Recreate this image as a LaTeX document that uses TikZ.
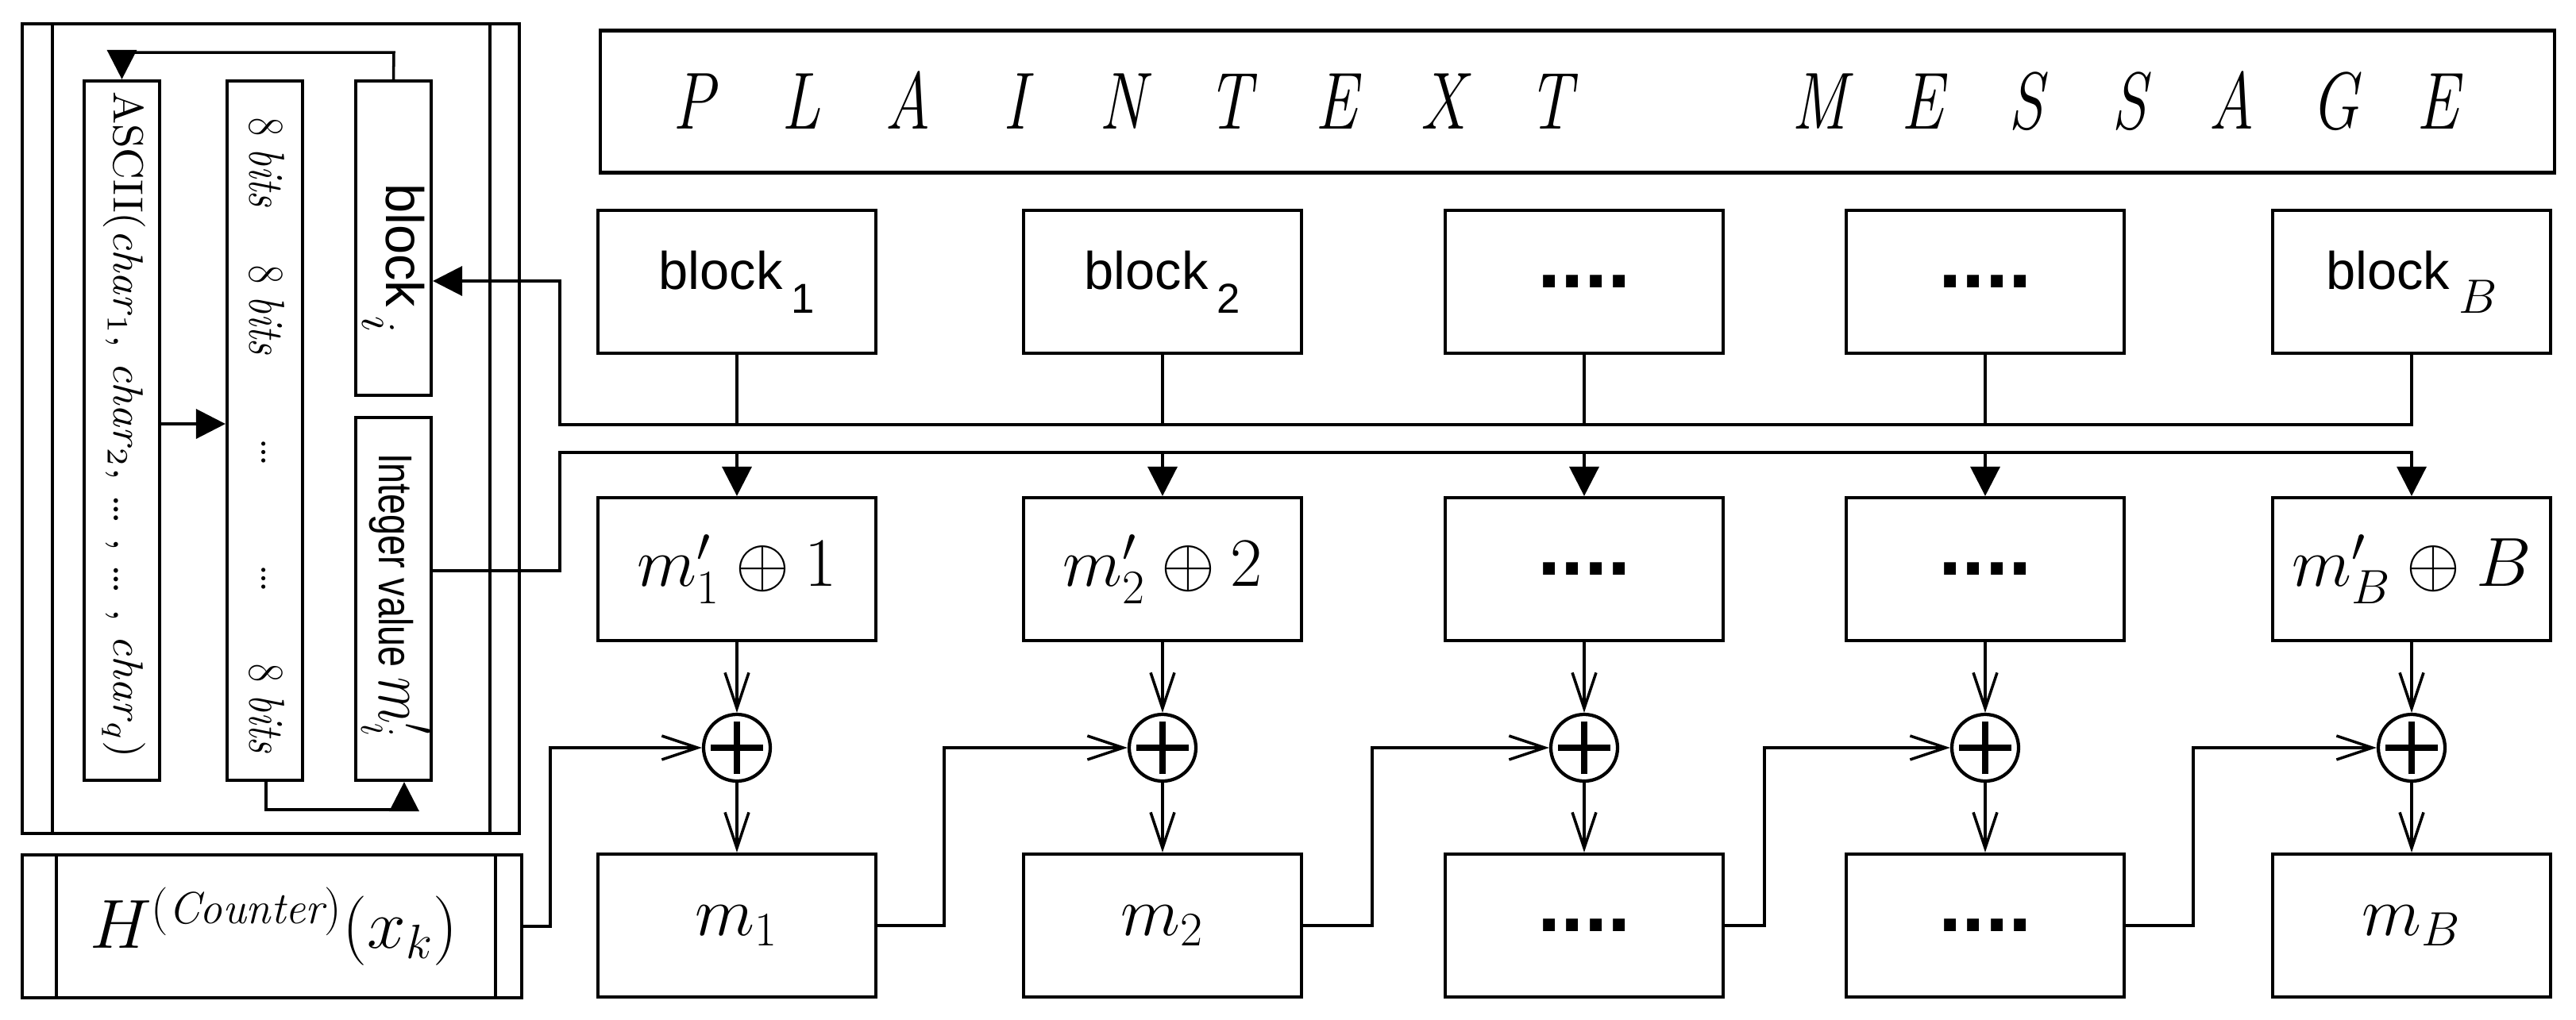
\documentclass[tikz,border=0pt]{standalone}
\usepackage{fontspec}
\setsansfont{Liberation Sans}
\usetikzlibrary{arrows.meta}
\begin{document}
\begin{tikzpicture}[
  line width=1pt,
  box/.style={draw,line width=1.2pt,minimum width=3.5cm,minimum height=1.8cm,inner sep=0pt},
  tri/.style={-{Triangle[length=0.37cm,width=0.37cm]}},
  barb/.style={-{Straight Barb[length=0.45cm,width=0.3cm,line width=1pt]}},
  xor/.style={draw,circle,line width=1.2pt,minimum size=0.84cm,inner sep=0pt},
  vtext/.style={rotate=-90,inner sep=0pt},
  mfont/.style={font=\fontsize{23}{26}\selectfont},
  sfont/.style={font=\sffamily\fontsize{19}{22}\selectfont},
  dots/.style={font=\sffamily\bfseries\fontsize{30}{32}\selectfont}
]
\useasboundingbox (0,0) rectangle (32.44,-12.84);
\newcommand{\blk}[1]{block\raisebox{-0.45em}{\,\fontsize{15}{16}\selectfont #1}}
\newcommand{\plet}[2]{\makebox[#1]{\scalebox{0.78}[1]{#2}}}
\newcommand{\dotsq}{....}

% plaintext
\node[draw,line width=1.3pt,minimum width=24.61cm,minimum height=1.79cm,inner sep=0pt] (pt) at (19.865,-1.28) {};
\node[inner sep=0pt,font=\itshape\fontsize{29}{30}\selectfont] (ptt) at (19.71,-1.27)
 {\plet{1.3475cm}{P}\plet{1.3475cm}{L}\plet{1.3475cm}{A}\plet{1.3475cm}{I}\plet{1.3475cm}{N}\plet{1.3475cm}{T}\plet{1.3475cm}{E}\plet{1.3475cm}{X}\plet{1.3475cm}{T}\hspace{2.07cm}\plet{1.298cm}{M}\plet{1.298cm}{E}\plet{1.298cm}{S}\plet{1.298cm}{S}\plet{1.298cm}{A}\plet{1.298cm}{G}\plet{1.298cm}{E}};

% rows
\foreach \i/\x in {1/9.28,2/14.64,3/19.95,4/25.00,5/30.37}{
  \node[box] (b\i) at (\x,-3.55) {};
  \node[box] (p\i) at (\x,-7.17) {};
  \node[xor] (x\i) at (\x,-9.42) {};
  \node[box] (m\i) at (\x,-11.66) {};
}
\node[sfont] at (b1) {\blk{1}};
\node[sfont] at (b2) {\blk{2}};
\node[dots] at (b3) {\dotsq};
\node[dots] at (b4) {\dotsq};
\node[sfont] at (b5) {block\raisebox{-0.45em}{\,\fontsize{17}{18}\selectfont$B$}};
\node[mfont] at (p1) {$m'_1\oplus 1$};
\node[mfont] at (p2) {$m'_2\oplus 2$};
\node[dots] at (p3) {\dotsq};
\node[dots] at (p4) {\dotsq};
\node[mfont] at (p5) {$m'_B\oplus B$};
\node[mfont] at (m1) {$m_1$};
\node[mfont] at (m2) {$m_2$};
\node[dots] at (m3) {\dotsq};
\node[dots] at (m4) {\dotsq};
\node[mfont] at (m5) {$m_B$};
\foreach \i in {1,...,5}{
  \draw[line width=2.2pt] ([xshift=-0.33cm]x\i.center) -- ([xshift=0.33cm]x\i.center);
  \draw[line width=2.2pt] ([yshift=-0.33cm]x\i.center) -- ([yshift=0.33cm]x\i.center);
  \draw[barb] (p\i.south) -- (x\i.north);
  \draw[barb] (x\i.south) -- (m\i.north);
}

% left panel
\draw[line width=1.3pt] (0.28,-0.30) rectangle (6.54,-10.50);
\draw (0.66,-0.30) -- (0.66,-10.50);
\draw (6.17,-0.30) -- (6.17,-10.50);
\node[draw,line width=1.2pt,minimum width=0.95cm,minimum height=8.81cm,inner sep=0pt] (asc) at (1.535,-5.425) {};
\node[draw,line width=1.2pt,minimum width=0.95cm,minimum height=8.81cm,inner sep=0pt] (bits) at (3.335,-5.425) {};
\node[draw,line width=1.2pt,minimum width=0.95cm,minimum height=3.96cm,inner sep=0pt] (blki) at (4.955,-3.00) {};
\node[draw,line width=1.2pt,minimum width=0.95cm,minimum height=4.57cm,inner sep=0pt] (int) at (4.955,-7.545) {};
\node[vtext] at (1.56,-5.35) {\resizebox*{8.4cm}{0.55cm}{ASCII(\textit{char}$_1$, \textit{char}$_2$, \ldots\ , \ldots\ , \textit{char}$_q$)}};
\foreach \y in {2.05,3.91,8.93}{
  \node[vtext,font=\fontsize{18}{20}\selectfont] at (3.36,-\y) {\scalebox{0.79}[1]{8 \textit{bits}}};
}
\node[vtext,font=\fontsize{18}{20}\selectfont] at (3.32,-5.70) {\ldots};
\node[vtext,font=\fontsize{18}{20}\selectfont] at (3.32,-7.29) {\ldots};
\node[vtext,sfont] at (4.96,-3.25) {block\raisebox{-0.45em}{\,\fontsize{17}{18}\selectfont$i$}};
\node[vtext,font=\sffamily\fontsize{17}{19}\selectfont] at (4.99,-7.50) {\scalebox{0.78}[1]{Integer value \fontsize{23}{24}\selectfont$m'_i$}};

\coordinate (ft) at (4.96,-0.66);
\draw[tri] (blki.north) -- (ft) -| (asc.north);
\draw[tri] (asc.east |- 0,-5.34) -- (bits.west |- 0,-5.34);
\coordinate (bb) at (3.35,-10.20);
\draw[tri] (bits.south -| bb) -- (bb) -| ([xshift=0.135cm]int.south);

% H box
\node[draw,line width=1.3pt,minimum width=6.29cm,minimum height=1.80cm,inner sep=0pt] (H) at (3.425,-11.67) {};
\draw (0.71,-10.77) -- (0.71,-12.57);
\draw (6.24,-10.77) -- (6.24,-12.57);
\node[mfont] at (3.45,-11.67) {$H^{(\mathit{Counter})}(x_k)$};

% buses
\coordinate (u1) at (7.05,-3.54);
\coordinate (l1) at (7.05,-5.35);
\draw[tri] (b5.south) |- (l1) -- (u1) -- (blki.east |- u1);
\foreach \i in {1,...,4}{ \draw (b\i.south) -- (b\i.south |- l1); }
\coordinate (i2) at (7.05,-7.19);
\coordinate (l2) at (7.05,-5.70);
\draw[tri] (int.east |- i2) -- (i2) -- (l2) -| (p5.north);
\foreach \i in {1,...,4}{ \draw[tri] (p\i.north |- l2) -- (p\i.north); }

% chain
\coordinate (c0) at (6.93,-11.67);
\draw[barb] (H.east) -- (c0) |- (x1.west);
\foreach \i/\j/\cx in {1/2/11.89,2/3/17.28,3/4/22.22,4/5/27.62}{
  \draw[barb] (m\i.east) -- (\cx,-11.66) |- (x\j.west);
}
\end{tikzpicture}
\end{document}
